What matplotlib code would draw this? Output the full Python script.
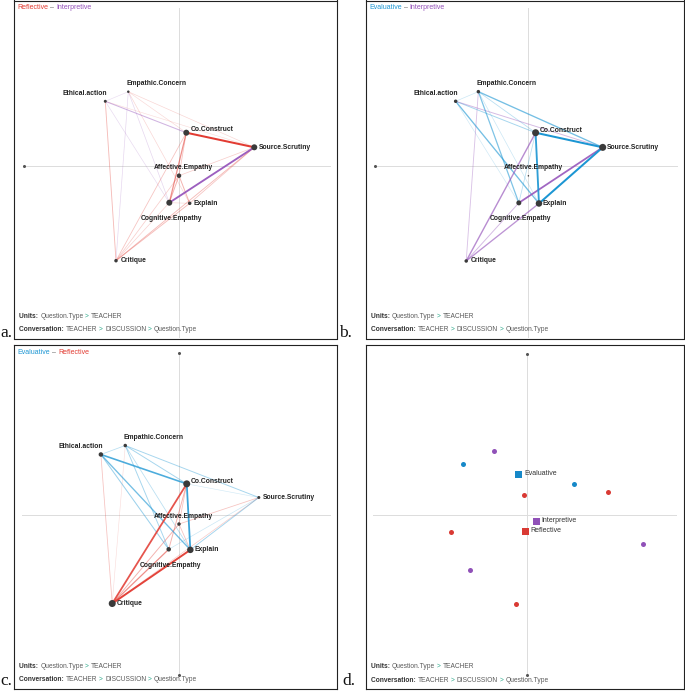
import numpy as np
import matplotlib
matplotlib.use('Agg')
import matplotlib.pyplot as plt

plt.rcParams['font.family'] = ['Liberation Sans', 'DejaVu Sans']

W, H = 685, 691

RED = '#e23b32'
PURPLE = '#9350b9'
BLUE = '#1c96d3'
NODE = '#3a3a3a'
TEAL = '#2aa88a'

# ENA node positions (shared by the three network plots)
CODES = ['Ethical.action', 'Empathic.Concern', 'Co.Construct', 'Source.Scrutiny',
         'Affective.Empathy', 'Cognitive.Empathy', 'Explain', 'Critique']
node_x = [-0.737, -0.507, 0.073, 0.753, 0.0, -0.097, 0.107, -0.63]
node_y = [0.644, 0.74, 0.33, 0.184, -0.10, -0.37, -0.376, -0.95]

# node sizes (px) per plot
sizes_a = [3.0, 2.5, 6.0, 6.0, 4.5, 6.0, 3.5, 3.5]
sizes_b = [3.5, 3.5, 7.0, 7.0, 1.5, 5.0, 6.5, 3.5]
sizes_c = [4.5, 3.5, 7.0, 3.0, 3.5, 4.5, 6.5, 7.0]

# edges: (code, code, weight) ; + = first group, - = second group
edges_a = [
    ('Co.Construct', 'Source.Scrutiny', 1.0),
    ('Cognitive.Empathy', 'Source.Scrutiny', -0.9),
    ('Ethical.action', 'Co.Construct', -0.35),
    ('Co.Construct', 'Cognitive.Empathy', 0.5),
    ('Affective.Empathy', 'Cognitive.Empathy', 0.3),
    ('Co.Construct', 'Affective.Empathy', 0.2),
    ('Affective.Empathy', 'Explain', 0.3),
    ('Ethical.action', 'Critique', 0.25),
    ('Empathic.Concern', 'Critique', -0.12),
    ('Critique', 'Source.Scrutiny', 0.25),
    ('Critique', 'Co.Construct', 0.2),
    ('Critique', 'Explain', 0.25),
    ('Critique', 'Affective.Empathy', 0.15),
    ('Explain', 'Source.Scrutiny', 0.2),
    ('Affective.Empathy', 'Source.Scrutiny', 0.15),
    ('Cognitive.Empathy', 'Critique', 0.12),
    ('Ethical.action', 'Empathic.Concern', -0.08),
    ('Empathic.Concern', 'Source.Scrutiny', 0.1),
    ('Empathic.Concern', 'Co.Construct', 0.08),
    ('Empathic.Concern', 'Cognitive.Empathy', -0.12),
    ('Empathic.Concern', 'Explain', 0.1),
    ('Ethical.action', 'Cognitive.Empathy', -0.1),
    ('Ethical.action', 'Source.Scrutiny', 0.06),
    ('Cognitive.Empathy', 'Explain', 0.08),
]
edges_b = [
    ('Co.Construct', 'Source.Scrutiny', 1.0),
    ('Explain', 'Source.Scrutiny', 1.0),
    ('Co.Construct', 'Explain', 0.9),
    ('Cognitive.Empathy', 'Source.Scrutiny', -0.85),
    ('Co.Construct', 'Critique', -0.6),
    ('Explain', 'Critique', -0.55),
    ('Cognitive.Empathy', 'Critique', -0.3),
    ('Empathic.Concern', 'Source.Scrutiny', 0.55),
    ('Empathic.Concern', 'Cognitive.Empathy', 0.5),
    ('Ethical.action', 'Explain', 0.55),
    ('Ethical.action', 'Co.Construct', 0.3),
    ('Ethical.action', 'Source.Scrutiny', -0.3),
    ('Empathic.Concern', 'Co.Construct', 0.2),
    ('Ethical.action', 'Empathic.Concern', 0.12),
    ('Empathic.Concern', 'Critique', -0.25),
    ('Ethical.action', 'Cognitive.Empathy', 0.1),
    ('Empathic.Concern', 'Explain', 0.12),
    ('Cognitive.Empathy', 'Co.Construct', 0.2),
]
edges_c = [
    ('Ethical.action', 'Co.Construct', 0.75),
    ('Co.Construct', 'Explain', 0.85),
    ('Ethical.action', 'Explain', 0.55),
    ('Ethical.action', 'Cognitive.Empathy', 0.35),
    ('Empathic.Concern', 'Source.Scrutiny', 0.3),
    ('Empathic.Concern', 'Co.Construct', 0.3),
    ('Empathic.Concern', 'Cognitive.Empathy', 0.3),
    ('Empathic.Concern', 'Explain', 0.2),
    ('Ethical.action', 'Empathic.Concern', 0.2),
    ('Source.Scrutiny', 'Explain', 0.3),
    ('Source.Scrutiny', 'Cognitive.Empathy', 0.12),
    ('Co.Construct', 'Critique', -0.85),
    ('Explain', 'Critique', -0.95),
    ('Cognitive.Empathy', 'Critique', -0.5),
    ('Affective.Empathy', 'Critique', -0.3),
    ('Co.Construct', 'Cognitive.Empathy', -0.3),
    ('Co.Construct', 'Affective.Empathy', -0.2),
    ('Affective.Empathy', 'Source.Scrutiny', -0.2),
    ('Ethical.action', 'Critique', -0.2),
    ('Co.Construct', 'Source.Scrutiny', 0.08),
    ('Critique', 'Source.Scrutiny', -0.15),
    ('Empathic.Concern', 'Critique', -0.06),
    ('Affective.Empathy', 'Explain', -0.2),
]

# panel d: unit points and group means
groups = ['Evaluative', 'Interpretive', 'Reflective']
eval_x = [-0.601, 0.446]
eval_y = [0.545, 0.332]
interp_x = [-0.311, -0.532, 1.094]
interp_y = [0.691, -0.585, -0.304]
refl_x = [-0.023, 0.764, -0.714, -0.104]
refl_y = [0.220, 0.249, -0.182, -0.945]

# label placement (px offsets)
LABEL_POS = {
    'Ethical.action': (2, 8, 'right'),
    'Empathic.Concern': (-1.6, 8, 'left'),
    'Co.Construct': (4.4, 2.7, 'left'),
    'Source.Scrutiny': (4.4, 0, 'left'),
    'Affective.Empathy': (4.5, 8, 'center'),
    'Cognitive.Empathy': (2, -16, 'center'),
    'Explain': (4, 0, 'left'),
    'Critique': (4.3, 0, 'left'),
}


def make_axes(fig, box, origin, scale):
    x0, y0, x1, y1 = box
    ox, oy = origin
    sx, sy = scale
    ax = fig.add_axes([x0 / W, 1 - y1 / H, (x1 - x0) / W, (y1 - y0) / H])
    ax.set_xlim((x0 - ox) / sx, (x1 - ox) / sx)
    ax.set_ylim((oy - y1) / sy, (oy - y0) / sy)
    ax.set_xticks([])
    ax.set_yticks([])
    for s in ax.spines.values():
        s.set_linewidth(0.8)
        s.set_color('#222222')
    return ax


def axis_lines(ax, origin, scale, hx, vy, dots):
    ox, oy = origin
    sx, sy = scale
    xl, xr = (hx[0] - ox) / sx, (hx[1] - ox) / sx
    yt, yb = (oy - vy[0]) / sy, (oy - vy[1]) / sy
    ax.plot([xl, xr], [0, 0], color='#dcdcdc', lw=0.7, zorder=0)
    ax.plot([0, 0], [yb, yt], color='#dcdcdc', lw=0.7, zorder=0)
    ends = {'left': (xl, 0), 'right': (xr, 0), 'top': (0, yt), 'bottom': (0, yb)}
    for d in dots:
        ax.plot(*ends[d], 'o', ms=1.2, color='#555555', zorder=1)


def rich_text(ax, x, y, parts, size=4.8):
    prev = None
    for s, color, weight in parts:
        if prev is None:
            prev = ax.text(x, y, s, transform=ax.transAxes, color=color,
                           fontweight=weight, fontsize=size, va='center', ha='left')
        else:
            prev = ax.annotate(s, xy=(1, 0), xycoords=prev, color=color,
                               fontweight=weight, fontsize=size, va='bottom', ha='left')


def footer(ax, box):
    x0, y0, x1, y1 = box
    h = y1 - y0
    w = x1 - x0
    g = '#5a5a5a'
    rich_text(ax, 5.3 / w, 22 / h, [('Units: ', '#333333', 'bold'), ('Question.Type', g, 'normal'),
                                     (' > ', TEAL, 'normal'), ('TEACHER', g, 'normal')])
    rich_text(ax, 5.3 / w, 9 / h, [('Conversation: ', '#333333', 'bold'), ('TEACHER', g, 'normal'),
                                    (' > ', TEAL, 'normal'), ('DISCUSSION', g, 'normal'),
                                    (' > ', TEAL, 'normal'), ('Question.Type', g, 'normal')])


def title(ax, box, g1, c1, g2, c2):
    x0, y0, x1, y1 = box
    rich_text(ax, 3.5 / (x1 - x0), 1 - 7.3 / (y1 - y0),
              [(g1, c1, 'normal'), (' \u2013 ', '#666666', 'normal'), (g2, c2, 'normal')], size=5.0)


def network(ax, edges, sizes, c_pos, c_neg):
    idx = {c: i for i, c in enumerate(CODES)}
    for a, b, w in sorted(edges, key=lambda e: abs(e[2])):
        i, j = idx[a], idx[b]
        ax.plot([node_x[i], node_x[j]], [node_y[i], node_y[j]],
                color=c_pos if w > 0 else c_neg, lw=0.35 + 1.1 * abs(w),
                alpha=0.13 + 0.87 * abs(w), solid_capstyle='round', zorder=2)
    ax.scatter(node_x, node_y, s=(np.array(sizes) * 0.72) ** 2, color=NODE,
               zorder=5, linewidths=0)
    for i, c in enumerate(CODES):
        dx, dy, ha = LABEL_POS[c]
        ax.annotate(c, (node_x[i], node_y[i]), xytext=(dx, dy), textcoords='offset pixels',
                    ha=ha, va='center', fontsize=4.9, fontweight='bold', color='#222222',
                    zorder=6)


fig = plt.figure(figsize=(W / 100, H / 100), dpi=100)

box_a = (14, 0.5, 337, 338.5)
box_b = (365.5, 0.5, 684, 338.5)
box_c = (14, 345, 336.5, 688.5)
box_d = (365.5, 345, 684, 689)

# a
ax = make_axes(fig, box_a, (179, 165.7), (100, 100))
axis_lines(ax, (179, 165.7), (100, 100), (24, 330), (8, 337), ['left'])
network(ax, edges_a, sizes_a, RED, PURPLE)
title(ax, box_a, 'Reflective', RED, 'Interpretive', PURPLE)
footer(ax, box_a)

# b
ax = make_axes(fig, box_b, (528.4, 165.8), (98.7, 100.2))
axis_lines(ax, (528.4, 165.8), (98.7, 100.2), (375, 677), (8, 337), ['left'])
network(ax, edges_b, sizes_b, BLUE, PURPLE)
title(ax, box_b, 'Evaluative', BLUE, 'Interpretive', PURPLE)
footer(ax, box_b)

# c
ax = make_axes(fig, box_c, (179, 514.7), (106, 93.5))
axis_lines(ax, (179, 514.7), (106, 93.5), (21.7, 330), (353, 675), ['top', 'bottom'])
network(ax, edges_c, sizes_c, BLUE, RED)
title(ax, box_c, 'Evaluative', BLUE, 'Reflective', RED)
footer(ax, box_c)

# d
ax = make_axes(fig, box_d, (526.7, 515.3), (106, 93.5))
axis_lines(ax, (526.7, 515.3), (106, 93.5), (373, 676), (354.3, 675), ['top', 'bottom'])
pts = [(eval_x, eval_y, '#1688c8'), (interp_x, interp_y, '#9051b8'), (refl_x, refl_y, '#d93a34')]
for g, (xs, ys, col) in zip(groups, pts):
    ax.scatter(xs, ys, s=(5 * 0.72) ** 2, color=col, zorder=4, linewidths=0)
    mx, my = np.mean(xs), np.mean(ys)
    ax.scatter([mx], [my], marker='s', s=(7 * 0.72) ** 2, color=col, zorder=5, linewidths=0)
    ax.annotate(g, (mx, my), xytext=(5.5, 0.5), textcoords='offset pixels', ha='left',
                va='center', fontsize=5.0, color='#333333')
footer(ax, box_d)

# panel letters
for lab, (px, py) in zip(['a.', 'b.', 'c.', 'd.'], [(0, 337), (339, 337), (0, 685), (342, 685)]):
    fig.text(px / W, 1 - py / H, lab, fontsize=12.5, family='Liberation Serif',
             va='baseline', ha='left', color='#111111')

fig.savefig('out.png', dpi=100)
